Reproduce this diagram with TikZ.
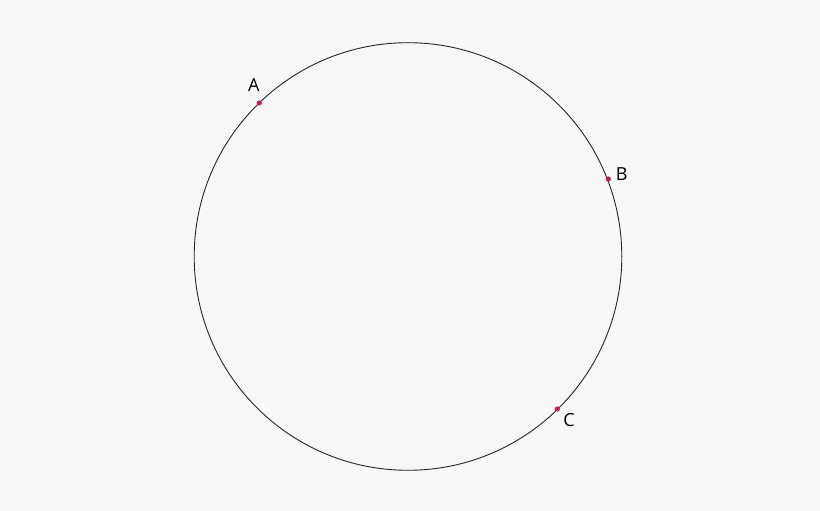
\documentclass[tikz,border=0pt]{standalone}
\usepackage{fontspec}
\setmainfont{Open Sans}
\definecolor{paper}{HTML}{F7F7F7}
\definecolor{dotred}{HTML}{C0204A}
\begin{document}
\begin{tikzpicture}[x=1pt, y=-1pt, line join=round,
    ptlabel/.style={anchor=base, inner sep=0pt, font=\fontsize{18}{20}\selectfont}]
    % Background and page size
    \fill[paper] (0,0) rectangle (820,511);
    \useasboundingbox (0,0) rectangle (820,511);

    % Define center of circle
    \coordinate (O) at (408,256.5);

    % Define points on the circle
    \coordinate (A) at (259.3,103);
    \coordinate (B) at (608.3,179);
    \coordinate (C) at (557.3,409);

    % Draw circle
    \draw[black!85, line width=0.9pt] (O) circle (213.8);

    % Draw points
    \fill[dotred] (A) circle (2.6);
    \fill[dotred] (B) circle (2.6);
    \fill[dotred] (C) circle (2.6);

    % Label points
    \node[ptlabel] (lA) at (253.7,92) {A};
    \node[ptlabel] (lB) at (621.7,180) {B};
    \node[ptlabel] (lC) at (569,426.7) {C};
\end{tikzpicture}
\end{document}
